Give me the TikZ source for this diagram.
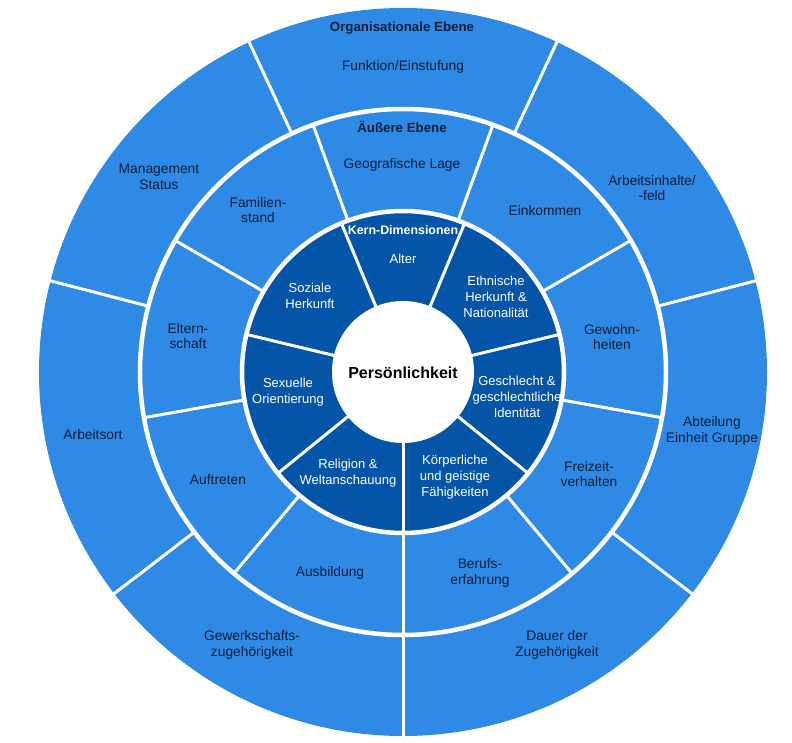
\documentclass[tikz,border=0pt]{standalone}
\usepackage{fontspec}
\setmainfont{Liberation Sans}
\usepackage{xcolor}
\usetikzlibrary{positioning}
\definecolor{ringBlue}{RGB}{47, 138, 229}
\definecolor{coreBlue}{RGB}{4, 84, 168}
\definecolor{labelNavy}{RGB}{14, 30, 56}

\begin{document}
\begin{tikzpicture}[
  x=1pt, y=1pt,
  ringlabel/.style={align=center, text=labelNavy, font=\fontsize{13.8}{15.5}\selectfont},
  ringtitle/.style={align=center, text=labelNavy, font=\fontsize{13.3}{15.5}\selectfont\bfseries},
  corelabel/.style={align=center, text=white, font=\fontsize{13}{15.7}\selectfont},
  coretitle/.style={align=center, text=white, font=\fontsize{12.4}{15.7}\selectfont\bfseries},
  divider/.style={draw=white, line width=3pt},
  gapline/.style={draw=white, line width=4.5pt}
]
  \useasboundingbox (-403,-370) rectangle (389,372);

  % Rings
  \fill[ringBlue] (0,0) circle (364);
  \draw[gapline] (0,0) circle (263);
  \fill[coreBlue] (0,0) circle (161);
  \draw[gapline] (0,0) circle (161);
  \fill[white] (0,0) circle (71);

  % Dividers
  \foreach \a in {65,14.5,-37.5,-90,-142.5,165.5,115}
    \draw[divider] (\a:264) -- (\a:366);
  \foreach \a in {70,30,-10,-50,-90,-130,-170,150,110}
    \draw[divider] (\a:162) -- (\a:262);
  \foreach \a in {67.5,13.5,-39,-90,-141,166.5,112.5}
    \draw[divider] (\a:71) -- (\a:160);

  % Organisationale Ebene
  \node[ringtitle] (orgtitle) at (-1,344) {Organisationale Ebene};
  \node[ringlabel] (funktion) at (0,305) {Funktion/Einstufung};
  \node[ringlabel] (management) at (-244,195) {Management\\Status};
  \node[ringlabel] (arbeitsinhalte) at (249,184) {Arbeitsinhalte/\\-feld};
  \node[ringlabel] (abteilung) at (309,-59) {Abteilung\\Einheit Gruppe};
  \node[ringlabel] (arbeitsort) at (-310,-63) {Arbeitsort};
  \node[ringlabel] (gewerkschaft) at (-151,-273) {Gewerkschafts-\\zugehörigkeit};
  \node[ringlabel] (dauer) at (154,-273) {Dauer der\\Zugehörigkeit};

  % Aeussere Ebene
  \node[ringtitle] (aussentitle) at (-1,245) {Äußere Ebene};
  \node[ringlabel] (geografisch) at (-1,207) {Geografische Lage};
  \node[ringlabel] (familienstand) at (-145,162) {Familien-\\stand};
  \node[ringlabel] (einkommen) at (142,161) {Einkommen};
  \node[ringlabel] (elternschaft) at (-215,36) {Eltern-\\schaft};
  \node[ringlabel] (gewohnheiten) at (209,35) {Gewohn-\\heiten};
  \node[ringlabel] (auftreten) at (-185,-108) {Auftreten};
  \node[ringlabel] (freizeit) at (186,-102) {Freizeit-\\verhalten};
  \node[ringlabel] (ausbildung) at (-73,-201) {Ausbildung};
  \node[ringlabel] (berufs) at (77,-201) {Berufs-\\erfahrung};

  % Kern-Dimensionen
  \node[coretitle] (kerntitle) at (0,142) {Kern-Dimensionen};
  \node[corelabel] (alter) at (0,113) {Alter};
  \node[corelabel] (soziale) at (-93,76) {Soziale\\Herkunft};
  \node[corelabel] (ethnisch) at (93,75) {Ethnische\\Herkunft \&\\Nationalität};
  \node[corelabel] (sexuell) at (-115,-20) {Sexuelle\\Orientierung};
  \node[corelabel] (geschlecht) at (114,-25) {Geschlecht \&\\geschlechtliche\\Identität};
  \node[corelabel] (religion) at (-55,-101) {Religion \&\\Weltanschauung};
  \node[corelabel] (koerper) at (52,-105) {Körperliche\\und geistige\\Fähigkeiten};

  % Mitte
  \node[font=\fontsize{16}{19}\selectfont\bfseries, text=black] (person) at (0,-1) {Persönlichkeit};

\end{tikzpicture}
\end{document}
